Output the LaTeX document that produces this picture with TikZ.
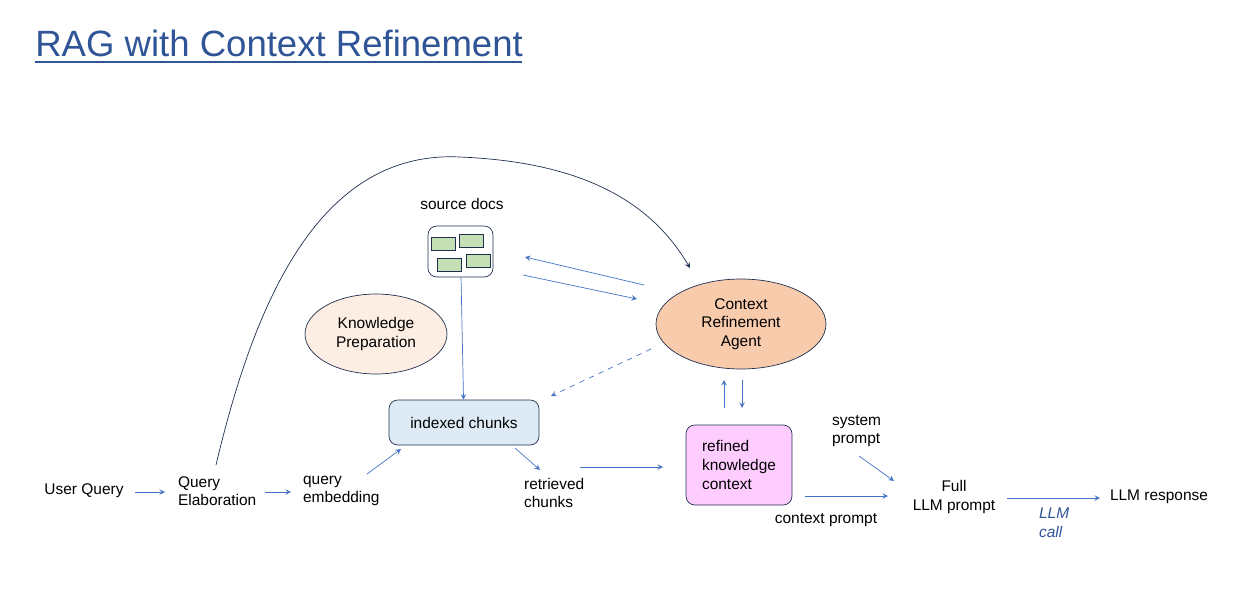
\documentclass[tikz,border=0pt]{standalone}
\usepackage{fontspec}
\setmainfont{Liberation Sans}
\usetikzlibrary{shapes.geometric}
\definecolor{arrblue}{HTML}{4472C4}
\definecolor{navy}{HTML}{1F2F4F}
\definecolor{titleblue}{HTML}{2F5597}
\definecolor{agentfill}{HTML}{F8CBAD}
\definecolor{prepfill}{HTML}{FDEEE4}
\definecolor{idxfill}{HTML}{DEEBF7}
\definecolor{reffill}{HTML}{FFCCFF}
\definecolor{docfill}{HTML}{C5E0B4}
\begin{document}
\begin{tikzpicture}[x=0.02cm, y=-0.02cm,
      txt/.style={align=center, font=\fontsize{8.8}{10.6}\selectfont, inner sep=1pt},
      ltxt/.style={txt, align=left},
      box/.style={rectangle, draw=navy, rounded corners=5pt, txt},
      doc/.style={rectangle, draw=navy, fill=docfill, minimum width=0.48cm, minimum height=0.27cm, inner sep=0pt},
      blob/.style={ellipse, draw=navy, txt},
      arr/.style={->, >=stealth, arrblue},
    ]
    \useasboundingbox (0,0) rectangle (1242,603);

    % Title
    \node[anchor=west, text=titleblue, font=\fontsize{20.8}{24}\selectfont, inner sep=0pt] (title) at (35,43) {RAG with Context Refinement};
    \draw[titleblue, line width=1pt] (35,62) -- (522,62);

    % Source docs
    \node[txt] (srclbl) at (462,204) {source docs};
    \node[box, minimum width=1.3cm, minimum height=1.02cm] (src) at (460.5,251.5) {};
    \node[doc] (d1) at (443.5,244) {};
    \node[doc] (d2) at (471.5,241) {};
    \node[doc] (d3) at (449.5,265) {};
    \node[doc] (d4) at (478,261) {};

    % Ellipses
    \node[blob, fill=prepfill, minimum width=2.84cm, minimum height=1.6cm] (kp) at (376,334) {Knowledge\\Preparation};
    \node[blob, fill=agentfill, minimum width=3.4cm, minimum height=1.8cm] (cra) at (741,324) {Context\\Refinement\\Agent};

    % Boxes
    \node[box, fill=idxfill, minimum width=3cm, minimum height=0.9cm] (idx) at (464,422.5) {indexed chunks};
    \node[box, fill=reffill, minimum width=2.12cm, minimum height=1.6cm, align=left] (ref) at (739,465) {refined\\knowledge\\context};

    % Pipeline labels
    \node[txt] (uq) at (84,491) {User Query};
    \node[ltxt, anchor=west] (qe) at (176,491) {Query\\Elaboration};
    \node[ltxt, anchor=west] (qemb) at (301,491) {query\\embedding};
    \node[ltxt, anchor=west] (ret) at (522,493) {retrieved\\chunks};
    \node[ltxt, anchor=west] (sys) at (830,431) {system\\prompt};
    \node[txt] (ctx) at (826,520) {context prompt};
    \node[txt] (full) at (954,497) {Full\\LLM prompt};
    \node[txt] (resp) at (1159,497) {LLM response};
    \node[ltxt, anchor=west, text=titleblue, font=\fontsize{8.8}{10.6}\selectfont\itshape] (call) at (1037,523) {LLM\\call};

    % Helper points
    \coordinate (cs) at (651,349);
    \coordinate (is) at (515,448);
    \coordinate (rs) at (580,467);
    \coordinate (a1) at (644,285);
    \coordinate (a2) at (525,257);
    \coordinate (b1) at (523,275);
    \coordinate (b2) at (637,299);
    \coordinate (s1) at (859,456);
    \coordinate (fp) at (894,481);
    \coordinate (c1) at (805,496);
    \coordinate (c2) at (888,496);
    \coordinate (f1) at (1007,498);
    \coordinate (top) at (690,268);

    % Arrows
    \draw[arr] (135,492) -- (165,492);
    \draw[arr] (265,492) -- (291,492);
    \draw[arr] (367,474) -- (401,449);
    \draw[arr] (src) -- (idx);
    \draw[arr, dashed] (cs) -- (551,396);
    \draw[arr] (is) -- (540,470);
    \draw[arr] (rs) -- (663,467);
    \draw[arr] (a1) -- (a2);
    \draw[arr] (b1) -- (b2);
    \draw[arr] (724,408) -- (724,380);
    \draw[arr] (742,380) -- (742,408);
    \draw[arr] (s1) -- (fp);
    \draw[arr] (c1) -- (c2);
    \draw[arr] (f1) -- (1100,498);

    % Query to agent
    \draw[->, >=stealth, navy] (216,465) .. controls (255,300) and (320,150) .. (460,157) .. controls (580,162) and (650,200) .. (top);
\end{tikzpicture}
\end{document}
